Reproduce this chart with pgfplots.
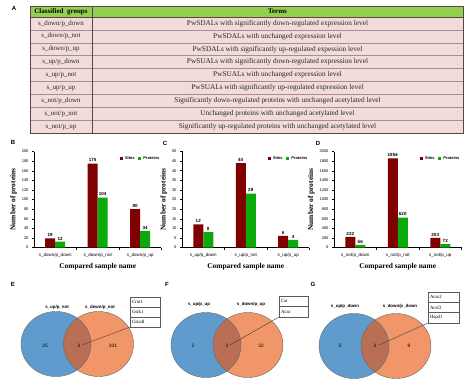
\documentclass[border=0pt]{standalone}
\usepackage{pgfplots}
\pgfplotsset{compat=1.18}
\usepackage{fontspec}
\setmainfont{Liberation Serif}
\setsansfont{Liberation Sans}
\definecolor{sitesred}{RGB}{128,0,0}
\definecolor{protgreen}{RGB}{10,170,10}
\definecolor{hdrgreen}{RGB}{146,208,80}
\definecolor{rowpink}{RGB}{242,220,219}
\definecolor{tblline}{RGB}{170,140,140}
\definecolor{tbldark}{RGB}{90,70,70}
\definecolor{vblue}{RGB}{95,155,205}
\definecolor{vorange}{RGB}{240,150,105}
\definecolor{voverlap}{RGB}{185,110,85}
\newcommand{\fs}[1]{\fontsize{#1}{#1}\selectfont}
\newcommand{\venn}[3]{%
  \fill[vblue] (axis cs:#1,#3) ellipse [x radius=35pt, y radius=32.5pt];
  \fill[vorange] (axis cs:#2,#3) ellipse [x radius=35pt, y radius=32.5pt];
  \begin{scope}
    \clip (axis cs:#1,#3) ellipse [x radius=35pt, y radius=32.5pt];
    \fill[voverlap] (axis cs:#2,#3) ellipse [x radius=35pt, y radius=32.5pt];
  \end{scope}
  \draw[black!60, line width=0.4pt] (axis cs:#1,#3) ellipse [x radius=35pt, y radius=32.5pt];
  \draw[black!60, line width=0.4pt] (axis cs:#2,#3) ellipse [x radius=35pt, y radius=32.5pt];
}
% #1 left x, #2 right x, #3 top y, #4 bottom y, #5 text
\newcommand{\genebox}[5]{%
  \draw[black!65, line width=0.4pt, fill=white] (axis cs:#1,#3) rectangle (axis cs:#2,#4);
  \node[font=\fs{4.8}, anchor=west, inner sep=0pt] at (axis cs:#1+1.8,{(#3+#4)/2}) {#5};
}
% table row: #1 index, #2 group, #3 term
\newcommand{\trow}[3]{%
  \node[font=\fs{6.9}, text=black!85] at (61,{372-(#1-0.5)*12.889}) {#2};
  \node[font=\fs{7.3}, text=black!85] at (277.5,{372-(#1-0.5)*12.889}) {#3};
}
\pgfplotsset{sqlegend/.style={legend image code/.code={\fill[##1] (0pt,-1.6pt) rectangle (3.2pt,1.6pt);}}}
\pgfplotsset{
  barchart/.style={
    scale only axis, width=127.5pt, height=96pt, anchor=south west,
    axis x line*=bottom, axis y line*=left,
    axis line style={line width=0.5pt, black},
    xmin=-0.5, xmax=2.5, ymin=0,
    xtick={0,1,2},
    xtick style={draw=none},
    extra x ticks={0.5,1.5,2.5}, extra x tick labels={},
    extra x tick style={xtick style={draw=black}},
    tick align=outside, major tick length=2pt,
    ytick style={black, line width=0.4pt},
    /pgf/number format/assume math mode=true,
    /pgf/number format/1000 sep={},
    yticklabel style={font=\sffamily\fs{4}, /pgf/number format/1000 sep={}},
    xticklabel style={font=\sffamily\fs{4.5}},
    ylabel={Number of proteins}, xlabel={Compared sample name},
    label style={font=\bfseries\fs{7.4}},
    ylabel style={yshift=-2pt},
    xlabel style={yshift=5pt},
    ybar=0pt, bar width=10pt,
    every axis plot post/.append style={sqlegend},
    nodes near coords, nodes near coords style={font=\sffamily\bfseries\fs{4.5}, black, inner sep=1.5pt},
    legend style={draw=none, fill=none, at={(1,0.97)}, anchor=north east, legend columns=2,
      font=\sffamily\bfseries\fs{4}, inner sep=0pt,
      /tikz/every even column/.append style={column sep=1.5pt}},
    legend cell align=left,
  }
}
\begin{document}
\begin{tikzpicture}[x=1pt,y=1pt]
\useasboundingbox (0,0) rectangle (474,389);
% ---------- Panel A: table ----------
\node[font=\sffamily\bfseries\fs{6}] at (14,381) {A};
\fill[hdrgreen] (30,372) rectangle (463,383);
\fill[rowpink] (30,256) rectangle (463,372);
\foreach \i in {1,...,8} {\draw[tblline, line width=0.4pt] (30,{372-\i*12.889}) -- (463,{372-\i*12.889});}
\draw[tbldark, line width=0.5pt] (30,372) -- (463,372);
\draw[tbldark, line width=0.6pt] (30,256) rectangle (463,383);
\draw[tbldark, line width=0.6pt] (92,256) -- (92,383);
\node[font=\bfseries\fs{7}] at (61,377.5) {Classified\ \ groups};
\node[font=\bfseries\fs{7}] at (277.5,377.5) {Terms};
\trow{1}{s\_down/p\_down}{PwSDALs with significantly down-regulated expression level}
\trow{2}{s\_down/p\_not}{PwSDALs with unchanged expression level}
\trow{3}{s\_down/p\_up}{PwSDALs with significantly up-regulated expession level}
\trow{4}{s\_up/p\_down}{PwSUALs with significantly down-regulated expression level}
\trow{5}{s\_up/p\_not}{PwSUALs with unchanged expression level}
\trow{6}{s\_up/p\_up}{PwSUALs with significantly up-regulated expression level}
\trow{7}{s\_not/p\_down}{Significantly down-regulated proteins with unchanged acetylated level}
\trow{8}{s\_not/p\_not}{Unchanged proteins with unchanged acetylated level}
\trow{9}{s\_not/p\_up}{Significantly up-regulated proteins with unchanged acetylated level}
% ---------- Panel letters ----------
\node[font=\sffamily\bfseries\fs{6}] at (13,247) {B};
\node[font=\sffamily\bfseries\fs{6}] at (165,246) {C};
\node[font=\sffamily\bfseries\fs{6}] at (318,246) {D};
\node[font=\sffamily\bfseries\fs{6}] at (13,105) {E};
\node[font=\sffamily\bfseries\fs{6}] at (167,105) {F};
\node[font=\sffamily\bfseries\fs{6}] at (313,105) {G};
% ---------- Panel B ----------
\begin{axis}[barchart, at={(34pt,141.5pt)}, ymax=200, ytick={0,20,...,200},
  xticklabels={s\_down/p\_down, s\_down/p\_not, s\_down/p\_up}]
\addplot[fill=sitesred, draw=none] coordinates {(0,19) (1,175) (2,80)};
\addplot[fill=protgreen, draw=none] coordinates {(0,12) (1,104) (2,34)};
\legend{Sites, Proteins}
\end{axis}
% ---------- Panel C ----------
\begin{axis}[barchart, at={(182pt,141.5pt)}, ymax=50, ytick={0,5,...,50},
  xticklabels={s\_up/p\_down, s\_up/p\_not, s\_up/p\_up}]
\addplot[fill=sitesred, draw=none] coordinates {(0,12) (1,44) (2,6)};
\addplot[fill=protgreen, draw=none] coordinates {(0,8) (1,28) (2,4)};
\legend{Sites, Proteins}
\end{axis}
% ---------- Panel D ----------
\begin{axis}[barchart, at={(334pt,141.5pt)}, ymax=2000, ytick={0,200,...,2000},
  xticklabels={s\_not/p\_down, s\_not/p\_not, s\_not/p\_up}]
\addplot[fill=sitesred, draw=none] coordinates {(0,222) (1,1856) (2,203)};
\addplot[fill=protgreen, draw=none] coordinates {(0,56) (1,620) (2,72)};
\legend{Sites, Proteins}
\end{axis}
% ---------- Venn panels E, F, G ----------
\begin{axis}[hide axis, x=1pt, y=1pt, xmin=0, xmax=474, ymin=0, ymax=120,
  anchor=south west, at={(0pt,0pt)}, clip=false]
\venn{56}{98.5}{45}
\venn{206}{248}{44}
\venn{354}{396}{43}
% set labels
\node[font=\sffamily\bfseries\fs{4.4}] at (axis cs:57,82) {s\_up/p\_not};
\node[font=\sffamily\bfseries\fs{4.4}] at (axis cs:100,82) {s\_down/p\_not};
\node[font=\sffamily\bfseries\fs{4.4}] at (axis cs:199,85) {s\_up/p\_up};
\node[font=\sffamily\bfseries\fs{4.4}] at (axis cs:251,85) {s\_down/p\_up};
\node[font=\sffamily\bfseries\fs{4.4}] at (axis cs:345,83) {s\_up/p\_down};
\node[font=\sffamily\bfseries\fs{4.4}] at (axis cs:400,83) {s\_down/p\_down};
% counts
\node[font=\sffamily\fs{4.8}] at (axis cs:45,43) {25};
\node[font=\sffamily\fs{4.8}] at (axis cs:79,43) {3};
\node[font=\sffamily\fs{4.8}] at (axis cs:113,43) {101};
\node[font=\sffamily\fs{4.8}] at (axis cs:193,43) {2};
\node[font=\sffamily\fs{4.8}] at (axis cs:227,43) {2};
\node[font=\sffamily\fs{4.8}] at (axis cs:261,43) {32};
\node[font=\sffamily\fs{4.8}] at (axis cs:340,43) {5};
\node[font=\sffamily\fs{4.8}] at (axis cs:375,43) {3};
\node[font=\sffamily\fs{4.8}] at (axis cs:409,43) {9};
% pointer lines
\draw[black!75, line width=0.4pt] (axis cs:82,44) -- (axis cs:130,62);
\draw[black!75, line width=0.4pt] (axis cs:230,44) -- (axis cs:279,72);
\draw[black!75, line width=0.4pt] (axis cs:379,44) -- (axis cs:428,66);
% gene boxes
\genebox{130}{160}{92}{82}{Crat1}
\genebox{130}{160}{82}{72}{Gstk1}
\genebox{130}{160}{72}{62}{Gsta4l}
\genebox{279}{308}{93}{82.5}{Cat}
\genebox{279}{308}{82.5}{72}{Acac}
\genebox{428}{459}{97}{86.7}{Acss2}
\genebox{428}{459}{86.7}{76.4}{Acsf2}
\genebox{428}{459}{76.4}{66}{Hspd1}
\end{axis}
\end{tikzpicture}
\end{document}
